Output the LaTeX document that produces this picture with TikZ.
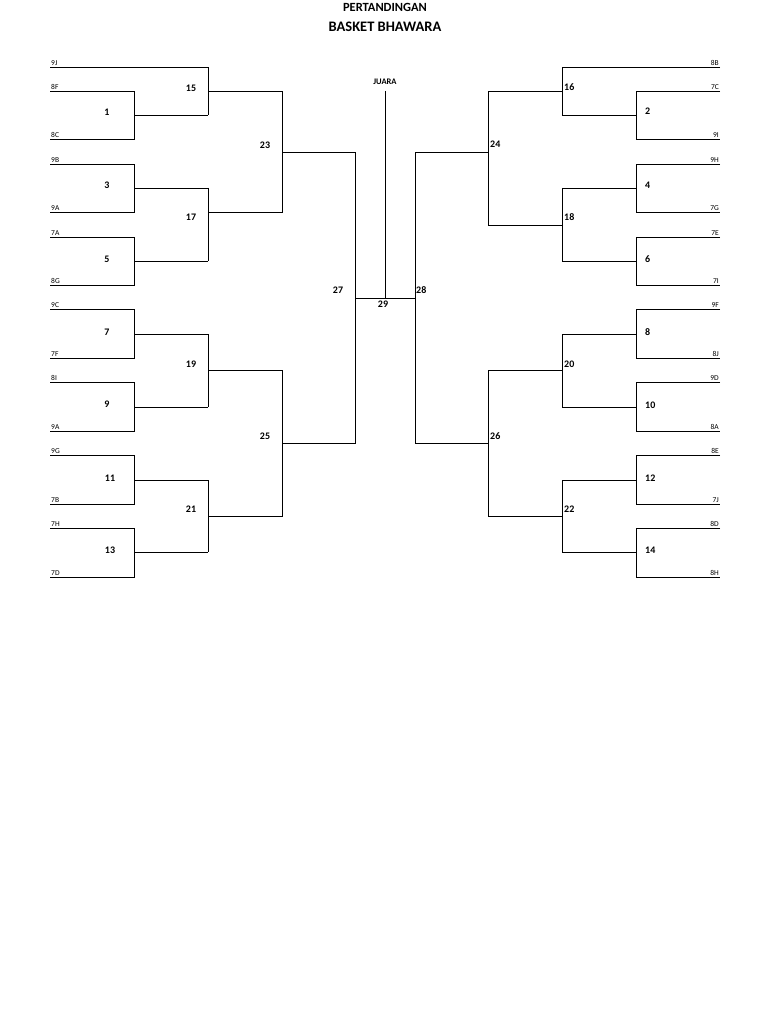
\documentclass[tikz,border=0pt]{standalone}
\usepackage{fontspec}
\setmainfont{Carlito}
\begin{document}
\begin{tikzpicture}[x=1pt,y=-1pt,
  ln/.style={line width=0.8pt},
  tl/.style={font=\fontsize{7.5}{8}\selectfont,anchor=south west,inner sep=1pt},
  tr/.style={font=\fontsize{7.5}{8}\selectfont,anchor=south east,inner sep=1pt},
  num/.style={font=\bfseries\fontsize{10}{11}\selectfont,inner sep=0pt},
  numl/.style={num,anchor=west}]
\useasboundingbox (0,0) rectangle (768,1024);
\node[font=\bfseries\fontsize{12.5}{13}\selectfont] (t1) at (385,7) {PERTANDINGAN};
\node[font=\bfseries\fontsize{14.5}{15}\selectfont] (t2) at (385,27) {BASKET BHAWARA};
% left side
\foreach \a/\b/\la/\lb/\n/\nx/\ny in {91/139/8F/8C/1/107/112,164/212/9B/9A/3/107/185,237/285/7A/8G/5/107/259,309/358/9C/7F/7/107/332,382/431/8I/9A/9/107/404,455/504/9G/7B/11/110/478,528/577/7H/7D/13/110/550}{
  \draw[ln] (50,\a) -- (134,\a) -- (134,\b) -- (50,\b);
  \node[tl] at (50,\a) {\la};
  \node[tl] at (50,\b) {\lb};
  \node[num] at (\nx,\ny) {\n};
}
\foreach \m in {115,188,261,334,407,480,552}{\draw[ln] (134,\m) -- (208,\m);}
\draw[ln] (50,67) -- (208,67) -- (208,115); \node[tl] at (50,67) {9J};
\draw[ln] (208,188) -- (208,261);
\draw[ln] (208,334) -- (208,407);
\draw[ln] (208,480) -- (208,552);
\draw[ln] (208,91) -- (282,91) -- (282,212) -- (208,212);
\draw[ln] (208,370) -- (282,370) -- (282,516) -- (208,516);
\draw[ln] (282,152) -- (355,152) -- (355,443) -- (282,443);
\node[num] at (191,88) {15};
\node[num] at (191,217) {17};
\node[num] at (265,145) {23};
\node[num] at (191,364) {19};
\node[num] at (191,509) {21};
\node[num] at (265,436) {25};
\node[num] at (338,290) {27};
% right side
\foreach \a/\b/\la/\lb/\n/\ny in {91/139/7C/9I/2/111,164/212/9H/7G/4/185,237/285/7E/7I/6/259,309/358/9F/8J/8/332,382/431/9D/8A/10/405,455/504/8E/7J/12/478,528/577/8D/8H/14/550}{
  \draw[ln] (720,\a) -- (636,\a) -- (636,\b) -- (720,\b);
  \node[tr] at (720,\a) {\la};
  \node[tr] at (720,\b) {\lb};
  \node[numl] at (645,\ny) {\n};
}
\foreach \m in {115,188,261,334,407,480,552}{\draw[ln] (636,\m) -- (562,\m);}
\draw[ln] (720,67) -- (562,67) -- (562,115); \node[tr] at (720,67) {8B};
\draw[ln] (562,188) -- (562,261);
\draw[ln] (562,334) -- (562,407);
\draw[ln] (562,480) -- (562,552);
\draw[ln] (562,91) -- (488,91) -- (488,225) -- (562,225);
\draw[ln] (562,370) -- (488,370) -- (488,516) -- (562,516);
\draw[ln] (488,152) -- (415,152) -- (415,443) -- (488,443);
\node[numl] at (564,87) {16};
\node[numl] at (564,217) {18};
\node[numl] at (490,144) {24};
\node[numl] at (564,364) {20};
\node[numl] at (564,509) {22};
\node[numl] at (490,436) {26};
\node[numl] at (416,290) {28};
% final
\draw[ln] (355,298) -- (415,298);
\node[font=\bfseries\fontsize{8.5}{9}\selectfont] (j) at (385,82) {JUARA};
\draw[ln] (385,91) -- (385,298);
\node[num] at (383,304) {29};
\end{tikzpicture}
\end{document}
